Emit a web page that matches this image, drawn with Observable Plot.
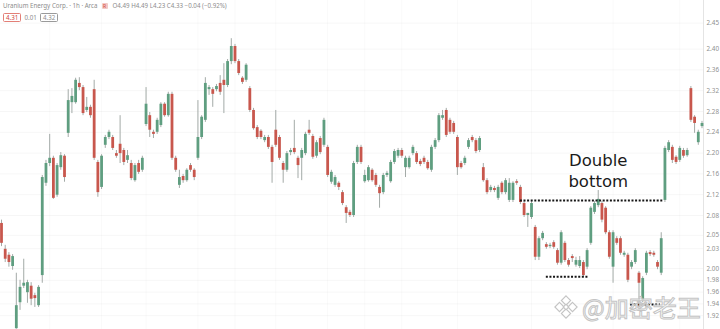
<!DOCTYPE html>
<html><head><meta charset="utf-8">
<script src="https://cdn.jsdelivr.net/npm/d3@7"></script>
<script src="https://cdn.jsdelivr.net/npm/@observablehq/plot@0.6"></script>
<style>
html,body{margin:0;padding:0;background:#fff;}
#wrap{position:relative;width:720px;height:329px;overflow:hidden;font-family:"Noto Sans",sans-serif;}
#chart svg{display:block;}
#hdr{position:absolute;left:3px;top:2px;font-size:6.2px;color:#8d8d8d;white-space:nowrap;line-height:8px;}
#hdr .badge{display:inline-block;width:6px;height:6px;background:#f3c9c5;color:#d0463c;font-size:5px;line-height:6px;text-align:center;border-radius:1px;margin:0 5px 0 4px;vertical-align:middle;}
#hdr .row2{margin-top:3px;}
#hdr .box{display:inline-block;border:0.8px solid #9a9a9a;border-radius:1.5px;padding:0 2px;line-height:7px;}
#hdr .box.red{border-color:#e37f77;color:#d0463c;}
#wm{position:absolute;left:553px;top:289px;white-space:nowrap;display:flex;align-items:center;}
#wm span{font-family:"Noto Sans CJK SC",sans-serif;font-size:24px;color:rgba(255,255,255,0.7);-webkit-text-stroke:1px #c4c4c4;margin-left:3px;}
</style></head><body>
<div id="wrap"><div id="chart"></div>
<div id="hdr"><div>Uranium Energy Corp. · 1h · Arca<span class="badge">R</span>O4.49 H4.49 L4.23 C4.33 −0.04 (−0.92%)</div>
<div class="row2"><span class="box red">4.31</span>&nbsp; 0.01 &nbsp;<span class="box">4.32</span></div></div>
<div id="wm"><svg width="26" height="26" viewBox="0 0 28 28"><g fill="rgba(255,255,255,0.7)" stroke="#c4c4c4" stroke-width="1.2"><path d="M14 2 L19 7 L14 12 L9 7 Z"/><path d="M14 16 L19 21 L14 26 L9 21 Z"/><path d="M7 9 L12 14 L7 19 L2 14 Z"/><path d="M21 9 L26 14 L21 19 L16 14 Z"/><path d="M14 11 L17 14 L14 17 L11 14 Z"/></g></svg><span>@加密老王</span></div>
</div>
<script>
const opens = [2.068,2.029,2.020,2.003,1.898,1.942,1.970,1.959,1.970,1.954,
1.937,1.988,2.142,2.180,2.190,2.119,2.172,2.194,2.238,2.297,
2.297,2.334,2.326,2.282,2.288,2.322,2.182,2.134,2.215,2.230,
2.230,2.199,2.217,2.205,2.186,2.180,2.147,2.180,2.167,2.255,
2.272,2.240,2.240,2.253,2.294,2.272,2.313,2.190,2.138,2.155,
2.147,2.176,2.167,2.190,2.230,2.263,2.322,2.322,2.322,2.334,
2.340,2.330,2.376,2.405,2.376,2.344,2.340,2.324,2.282,2.249,
2.242,2.224,2.230,2.211,2.244,2.230,2.180,2.167,2.201,2.209,
2.190,2.190,2.199,2.244,2.232,2.194,2.228,2.215,2.211,2.144,
2.138,2.142,2.124,2.095,2.086,2.080,2.182,2.211,2.145,2.147,
2.167,2.157,2.134,2.124,2.157,2.145,2.182,2.194,2.205,2.172,
2.172,2.199,2.199,2.184,2.190,2.182,2.167,2.211,2.224,2.267,
2.282,2.263,2.257,2.230,2.180,2.180,2.211,2.230,2.224,2.205,
2.172,2.147,2.128,2.132,2.113,2.142,2.124,2.109,2.109,2.145,
2.134,2.103,2.080,2.077,2.062,2.017,2.045,2.036,2.033,2.039,
2.027,2.008,2.038,2.012,2.018,2.005,2.003,2.009,2.002,2.038,
2.086,2.099,2.103,2.094,2.054,2.002,2.045,2.045,2.020,2.020,
2.002,2.009,1.992,1.946,1.992,2.024,2.023,2.009,1.992,2.109,
2.205,2.211,2.192,2.186,2.205,2.195,2.324,2.269,2.220,2.251];
const highs = [2.073,2.035,2.024,2.021,1.992,1.980,2.014,1.980,1.976,1.958,
1.971,2.157,2.186,2.236,2.194,2.180,2.201,2.197,2.322,2.324,
2.344,2.345,2.330,2.307,2.292,2.340,2.186,2.197,2.234,2.244,
2.234,2.205,2.272,2.209,2.205,2.186,2.180,2.186,2.194,2.326,
2.278,2.244,2.267,2.297,2.297,2.317,2.317,2.194,2.167,2.159,
2.170,2.180,2.170,2.301,2.272,2.345,2.330,2.326,2.332,2.349,
2.372,2.380,2.420,2.409,2.380,2.347,2.372,2.328,2.286,2.253,
2.245,2.234,2.234,2.215,2.282,2.234,2.184,2.203,2.209,2.263,
2.194,2.209,2.240,2.263,2.236,2.224,2.232,2.267,2.215,2.167,
2.157,2.145,2.128,2.099,2.090,2.184,2.215,2.215,2.167,2.176,
2.170,2.161,2.138,2.161,2.165,2.186,2.207,2.209,2.209,2.194,
2.194,2.215,2.203,2.188,2.194,2.186,2.215,2.228,2.276,2.282,
2.286,2.267,2.261,2.234,2.184,2.194,2.228,2.234,2.228,2.232,
2.180,2.151,2.138,2.136,2.138,2.145,2.151,2.151,2.145,2.149,
2.138,2.107,2.084,2.107,2.065,2.048,2.056,2.039,2.038,2.042,
2.030,2.057,2.041,2.015,2.021,2.017,2.018,2.012,2.030,2.097,
2.107,2.128,2.107,2.097,2.057,2.057,2.048,2.048,2.026,2.023,
2.012,2.030,1.995,1.986,2.026,2.027,2.026,2.012,2.054,2.213,
2.224,2.215,2.195,2.213,2.209,2.209,2.328,2.272,2.244,2.261];
const lows = [2.033,2.009,2.002,1.997,1.897,1.929,1.966,1.941,1.937,1.934,
1.934,1.975,2.136,2.174,2.111,2.115,2.167,2.144,2.230,2.276,
2.294,2.320,2.272,2.278,2.267,2.186,2.115,2.130,2.209,2.226,
2.205,2.190,2.180,2.176,2.180,2.147,2.144,2.159,2.163,2.251,
2.230,2.228,2.236,2.249,2.269,2.269,2.186,2.163,2.132,2.142,
2.144,2.163,2.147,2.186,2.226,2.259,2.311,2.288,2.318,2.311,
2.276,2.326,2.370,2.372,2.349,2.332,2.336,2.278,2.244,2.226,
2.226,2.220,2.207,2.142,2.211,2.186,2.142,2.163,2.195,2.197,
2.151,2.147,2.195,2.234,2.188,2.190,2.197,2.211,2.153,2.140,
2.134,2.128,2.099,2.068,2.077,2.077,2.178,2.178,2.142,2.144,
2.144,2.134,2.094,2.120,2.153,2.142,2.178,2.190,2.190,2.153,
2.169,2.195,2.178,2.174,2.178,2.167,2.163,2.207,2.220,2.263,
2.230,2.236,2.236,2.157,2.169,2.176,2.207,2.220,2.199,2.201,
2.144,2.120,2.124,2.124,2.109,2.120,2.120,2.105,2.105,2.138,
2.101,2.077,2.062,2.074,2.012,2.012,2.042,2.029,2.030,2.029,
2.005,2.005,2.009,2.002,2.009,2.002,2.000,1.985,1.998,2.035,
2.082,2.095,2.069,2.051,2.014,1.975,2.035,2.020,2.017,1.976,
1.998,2.006,1.929,1.942,1.988,2.018,2.017,1.998,1.988,2.105,
2.201,2.180,2.178,2.182,2.190,2.192,2.259,2.238,2.215,2.247];
const closes = [2.038,2.014,2.009,2.018,1.937,1.968,1.975,1.976,1.948,1.949,
1.968,2.153,2.180,2.190,2.113,2.176,2.195,2.153,2.301,2.309,
2.340,2.326,2.276,2.288,2.272,2.190,2.124,2.194,2.230,2.240,
2.209,2.194,2.199,2.182,2.195,2.151,2.176,2.163,2.190,2.294,
2.244,2.236,2.263,2.294,2.272,2.313,2.190,2.167,2.153,2.147,
2.167,2.167,2.153,2.230,2.269,2.334,2.326,2.313,2.328,2.317,
2.330,2.376,2.405,2.376,2.353,2.336,2.369,2.282,2.247,2.230,
2.230,2.230,2.211,2.182,2.215,2.190,2.167,2.199,2.205,2.201,
2.176,2.205,2.236,2.238,2.192,2.220,2.201,2.263,2.157,2.163,
2.153,2.134,2.103,2.084,2.080,2.180,2.211,2.182,2.157,2.172,
2.147,2.138,2.122,2.157,2.161,2.182,2.203,2.205,2.194,2.190,
2.190,2.211,2.182,2.178,2.182,2.170,2.211,2.224,2.272,2.272,
2.234,2.240,2.240,2.172,2.172,2.190,2.224,2.224,2.203,2.228,
2.147,2.124,2.134,2.128,2.134,2.124,2.147,2.142,2.142,2.142,
2.105,2.080,2.084,2.103,2.017,2.045,2.053,2.032,2.035,2.032,
2.008,2.054,2.012,2.005,2.015,2.012,2.012,1.988,2.027,2.094,
2.103,2.111,2.073,2.054,2.017,2.054,2.038,2.023,2.023,1.980,
2.009,2.027,1.975,1.983,2.023,2.021,2.020,2.002,2.045,2.209,
2.220,2.186,2.182,2.209,2.194,2.205,2.263,2.257,2.240,2.257];

const yTicks = [2.45,2.40,2.36,2.32,2.28,2.24,2.20,2.16,2.12,2.08,2.05,2.03,2.00,1.98,1.96,1.94,1.92];
const yBreaks = [1.90,2.00,2.08,2.45];
const vGrid = [13,27,39,53,63,74,88,98,108,123,143,165,183];
const levelY = [2.109,1.986,1.939];
const levelX1 = [140,147,169.7];
const levelX2 = [178.6,158.4,177.8];
const labelText = "Double\nbottom";
const labelX = 161;
const labelY = 2.1685;

const GREEN = "#5f9e80", RED = "#c8574d", WICK = "#a3aaa7";
const bars = opens.map((o,i)=>({i, o, h: highs[i], l: lows[i], c: closes[i]}));
const ups = bars.filter(d => d.c >= d.o);
const downs = bars.filter(d => d.c < d.o);
const levels = levelY.map((y,k)=>({y, x1: levelX1[k], x2: levelX2[k]}));

const chart = Plot.plot({
  width: 720, height: 329,
  marginTop: 0, marginBottom: 0, marginLeft: 0, marginRight: 17,
  x: {domain: [0, 189], range: [1, 701.5], axis: null},
  y: {type: "linear", domain: yBreaks, range: [327, 268, 215, 22.6], axis: null},
  style: {background: "#fff", overflow: "visible"},
  marks: [
    Plot.gridY(yTicks, {stroke: "#000", strokeOpacity: 0.035}),
    Plot.gridX(vGrid, {stroke: "#000", strokeOpacity: 0.025}),
    Plot.frame({anchor: "right", stroke: "#e4e4e4"}),
    Plot.axisY(yTicks, {anchor: "right", tickSize: 0, tickPadding: 3, label: null,
      tickFormat: d => d.toFixed(2), fontSize: 6.3, color: "#8f8f8f", fontFamily: "Noto Sans"}),
    Plot.ruleX(bars, {x: "i", y1: "l", y2: "h", stroke: WICK, strokeWidth: 1}),
    Plot.ruleX(ups, {x: "i", y1: "o", y2: "c", stroke: GREEN, strokeWidth: 2.8}),
    Plot.ruleX(downs, {x: "i", y1: "o", y2: "c", stroke: RED, strokeWidth: 2.8}),
    Plot.ruleY(levels, {y: "y", x1: "x1", x2: "x2", stroke: "#151515", strokeWidth: 2, strokeDasharray: "2 1.6"}),
    Plot.text([labelText], {x: labelX, y: labelY, text: d => d, fontSize: 16.5, lineHeight: 1.3,
      fill: "#1b1b1b", fontFamily: "DejaVu Sans", textAnchor: "middle"})
  ]
});
document.getElementById("chart").appendChild(chart);
</script>
</body></html>
